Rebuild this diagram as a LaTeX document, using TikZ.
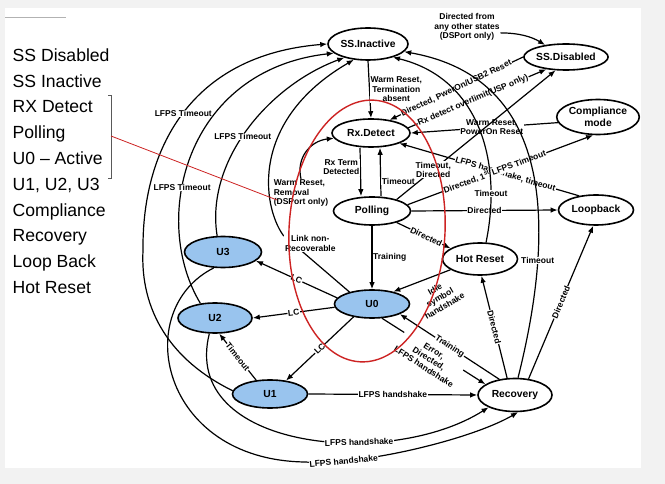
\documentclass[tikz,border=0pt]{standalone}
\usepackage{fontspec}
\setmainfont{Liberation Sans}
\usetikzlibrary{arrows.meta,shapes.geometric}
\definecolor{ublue}{RGB}{153,196,238}
\definecolor{bggray}{RGB}{242,242,242}
\definecolor{markred}{RGB}{205,35,35}

\begin{document}
\begin{tikzpicture}[x=1pt,y=-1pt,
  st/.style={draw, ellipse, line width=1.6pt, inner sep=0pt, align=center,
    font=\bfseries\fontsize{10.3}{11.5}\selectfont},
  ust/.style={st, fill=ublue},
  tr/.style={-{Latex[length=7pt,width=5.5pt]}, line width=1.2pt},
  lbl/.style={font=\bfseries\fontsize{8.5}{9.6}\selectfont, fill=white, inner sep=0.6pt, align=center},
  item/.style={anchor=base west, inner sep=0pt, font=\fontsize{17.6}{20}\selectfont}]

\useasboundingbox (0,0) rectangle (665,484);
\fill[bggray] (0,0) rectangle (665,484);
\fill[white] (5,8) rectangle (641,468);
\draw[gray!60, line width=0.8pt] (5,17) -- (66,17);

\node[item] (sdis) at (12.5,61.3) {SS Disabled};
\node[item] (sina) at (12.5,87.1) {SS Inactive};
\node[item] (srx) at (12.5,112.9) {RX Detect};
\node[item] (spol) at (12.5,138.7) {Polling};
\node[item] (suz) at (12.5,164.5) {U0 – Active};
\node[item] (su) at (12.5,190.3) {U1, U2, U3};
\node[item] (scom) at (12.5,216.1) {Compliance};
\node[item] (srec) at (12.5,241.9) {Recovery};
\node[item] (slb) at (12.5,267.7) {Loop Back};
\node[item] (shr) at (12.5,293.5) {Hot Reset};
\draw[gray!70!black, line width=0.7pt] (108,95) -- (111,95) -- (111,178) -- (108,178);
\coordinate (brk) at (111,136);

\node[st, minimum width=80pt, minimum height=32pt] (inact) at (368,44) {SS.Inactive};
\node[st, minimum width=76pt, minimum height=26pt] (disab) at (566,57) {SS.Disabled};
\node[st, minimum width=78pt, minimum height=28pt] (rxdet) at (371,133) {Rx.Detect};
\node[st, minimum width=81pt, minimum height=35pt] (compl) at (598,117) {Compliance\\mode};
\node[st, minimum width=77pt, minimum height=28pt] (poll) at (372,211) {Polling};
\node[st, minimum width=75pt, minimum height=30pt] (loop) at (596,210) {Loopback};
\node[st, minimum width=75pt, minimum height=32pt] (hot) at (480,259) {Hot Reset};
\node[ust, minimum width=75pt, minimum height=28pt] (uzero) at (372,304) {U0};
\node[ust, minimum width=77pt, minimum height=31pt] (uthree) at (223,252) {U3};
\node[ust, minimum width=74pt, minimum height=30pt] (utwo) at (215,318) {U2};
\node[ust, minimum width=75pt, minimum height=28pt] (uone) at (270,394) {U1};
\node[st, minimum width=74pt, minimum height=33pt] (recov) at (515,395) {Recovery};
\node[lbl, fill=none] (anyst) at (467,27) {Directed from\\any other states\\(DSPort only)};
\node[lbl, align=left, fill=none] (wrm) at (301,193) {Warm Reset,\\Removal\\(DSPort only)};
\coordinate (rdend) at (277,200);

\draw[tr] (inact.south) -- node[lbl, right] {Warm Reset,\\Termination\\absent} (rxdet.north);
\draw[tr] ([xshift=-11pt]rxdet.south) -- node[lbl, left, pos=0.4] {Rx Term\\Detected} ([xshift=-11pt]poll.north);
\draw[tr] ([xshift=9pt]poll.north) -- node[lbl, right, pos=0.3] {Timeout} ([xshift=9pt]rxdet.south);
\draw[tr] (poll.south) -- node[lbl, right] {Training} (uzero.north);
\draw[tr] (poll.east) -- node[lbl] {Directed} (loop.west);
\draw[tr] (poll.-25) -- node[lbl, sloped, pos=0.55] {Directed} (hot.160);
\draw[tr] (compl.188) -- node[lbl, pos=0.45] {Warm Reset,\\PowerOn Reset} (rxdet.east);
\draw[tr] (disab.180) -- node[lbl, sloped] {Directed, PwerOn/USB2 Reset} (rxdet.35);
\draw[tr] (rxdet.8) -- node[lbl, sloped, pos=0.47] {Rx detect overlimit(USP only)} (disab.212);
\draw[tr] (anyst.-10) .. controls (520,33) and (532,37) .. (disab.150);
\draw[tr] (loop.140) -- node[lbl, sloped, pos=0.41] {LFPS handshake, timeout} (rxdet.-20);
\draw[tr] (poll.25) -- node[lbl, pos=0.23] {Timeout,\\Directed} (disab.232);
\draw[tr] (poll.10) -- node[lbl, sloped, pos=0.47] {Directed, 1\textsuperscript{st} LFPS Timeout} (compl.255);
\draw[tr] (hot.70) .. controls (503,160) and (478,78) .. node[lbl, pos=0.2] {Timeout} (inact.-28);
\draw[tr] (recov.80) .. controls (550,250) and (565,80) .. node[lbl, pos=0.29] {Timeout} (inact.-12);
\draw[tr] (recov.115) -- node[lbl, sloped] {Directed} (hot.-85);
\draw[tr] (recov.50) -- node[lbl, sloped] {Directed} (loop.-100);
\draw[tr] (hot.200) -- node[lbl, pos=0.45, xshift=15pt, yshift=-18pt, rotate=30] {Idle\\symbol\\handshake} (uzero.30);
\draw[tr] (recov.135) -- node[lbl, sloped] {Training} (uzero.-20);
\draw[tr] (uzero.-55) -- node[lbl, sloped, yshift=-9pt] {Error,\\Directed,\\LFPS handshake} (recov.160);
\draw[tr] (uzero.170) -- node[lbl, sloped] {LC} (uthree.-15);
\draw[tr] (uzero.185) -- node[lbl, sloped] {LC} (utwo.east);
\draw[tr] (uzero.215) -- node[lbl, sloped] {LC} (uone.40);
\draw[tr] (uone.135) -- node[lbl, sloped] {Timeout} (utwo.-75);
\draw[tr] (uone.east) -- node[lbl] {LFPS handshake} (recov.west);
\draw[tr] (utwo.-110) .. controls (180,450) and (390,470) .. node[lbl, sloped, pos=0.65] {LFPS handshake} (recov.205);
\draw[tr] (uthree.-120) .. controls (130,310) and (160,460) .. (305,462)
  .. controls (360,466) and (470,440) .. node[lbl, sloped, pos=0.2] {LFPS handshake} (recov.-80);
\draw[tr] (uone.175) .. controls (170,360) and (140,310) .. (143,250)
  .. controls (142,150) and (190,55) .. node[lbl, pos=0.5] {LFPS Timeout} (inact.west);
\draw[tr] (utwo.135) .. controls (150,220) and (185,70) .. node[lbl, pos=0.39] {LFPS Timeout} (inact.195);
\draw[tr] (uthree.110) .. controls (205,160) and (270,85) .. node[lbl, pos=0.46] {LFPS Timeout} (inact.210);
\draw[tr] (uzero.152) -- node[lbl, pos=0.8, xshift=14pt, yshift=3pt] {Link non-\\Recoverable} (283,235)
  .. controls (262,205) and (250,120) .. (inact.228);
\draw[tr] (wrm.north) .. controls (296,158) and (310,141) .. (rxdet.188);

\draw[markred, line width=0.8pt] (brk) -- (rdend);
\draw[markred, line width=1.4pt, rotate around={-3:(367,231)}] (367,231) ellipse [x radius=78pt, y radius=131pt];
\end{tikzpicture}
\end{document}
